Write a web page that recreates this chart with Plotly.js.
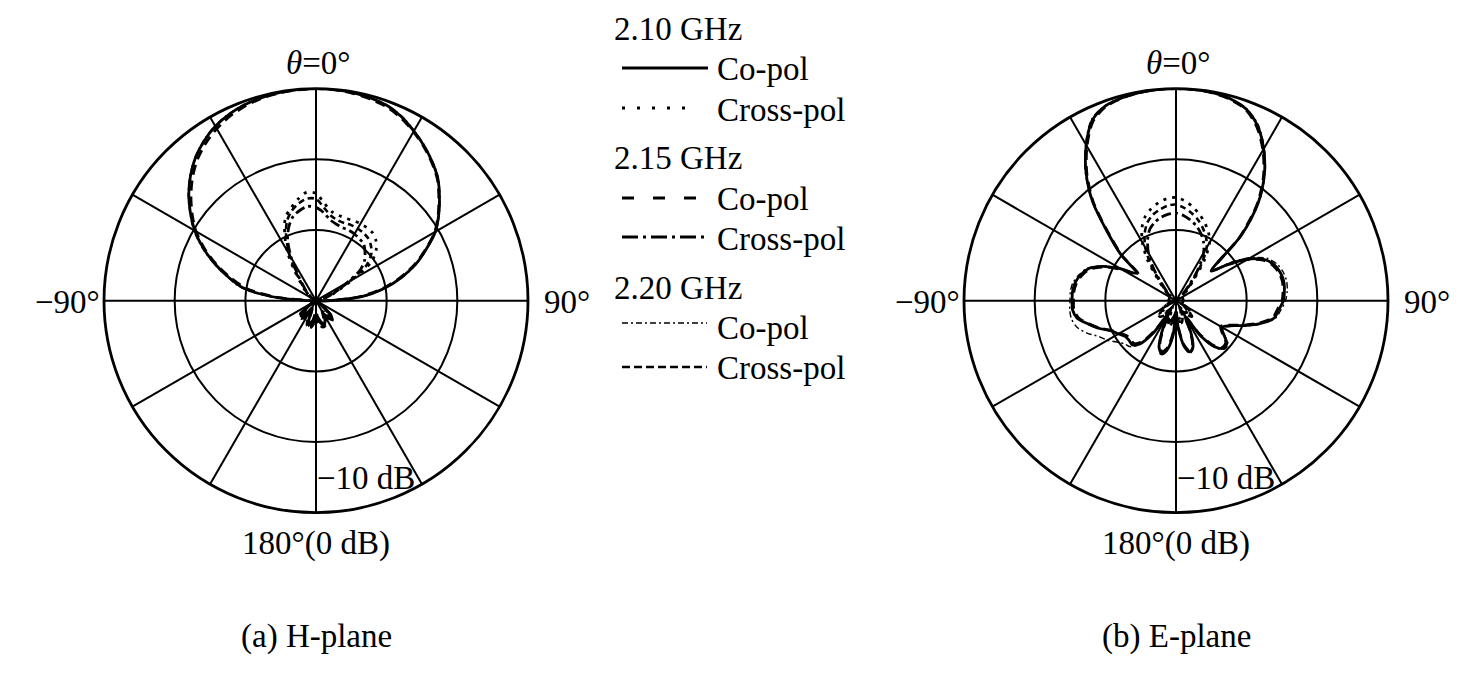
<!DOCTYPE html>
<html><head><meta charset="utf-8">
<script src="https://cdn.plot.ly/plotly-3.0.1.min.js"></script>
<style>html,body{margin:0;padding:0;background:#fff;}#chart{width:1465px;height:673px;}</style>
</head><body><div id="chart"></div>
<script>
// angles (degrees), theta = 0 at top, clockwise
const theta = [-180,-175,-170,-165,-160,-155,-150,-145,-140,-135,-130,-125,-120,-115,-110,-105,-100,-95,-90,
 -85,-80,-75,-70,-65,-60,-55,-50,-45,-40,-35,-30,-25,-20,-15,-10,-5,0,
 5,10,15,20,25,30,35,40,45,50,55,60,65,70,75,80,85,90,
 95,100,105,110,115,120,125,130,135,140,145,150,155,160,165,170,175,180];

// ---------- H-plane (dB) ----------
const hCo210 = [-28,-27.5,-26.5,-26.5,-27,-28.5,-28,-27,-27,-27.5,-28,-29,-29.5,-29.5,-29.5,-29.5,-29.5,-29.5,-29,
 -24,-19.5,-17.2,-14.8,-12.4,-10.2,-8.3,-6.5,-4.9,-3.5,-2.4,-1.5,-0.9,-0.5,-0.25,-0.1,0,0,
 0,-0.1,-0.3,-0.6,-1.3,-2.3,-3.3,-4.4,-5.6,-7.2,-8.8,-10.5,-12.8,-15,-17.6,-20.3,-23.5,-28,
 -29.5,-29.5,-29.5,-29.5,-29.5,-29.5,-29.5,-28.5,-27,-26.5,-27,-27.5,-27,-26.5,-26.5,-27,-27.5,-28];
const hCo215 = [-28.5,-28,-27,-26.8,-27.5,-28.8,-28.5,-27.5,-27.3,-27.8,-28.5,-29.2,-29.5,-29.5,-29.5,-29.5,-29.5,-29.5,-29.2,
 -24.5,-20,-17.5,-15,-12.6,-10.4,-8.6,-6.9,-5.3,-3.9,-2.8,-1.9,-1.2,-0.7,-0.35,-0.15,-0.05,0,
 -0.05,-0.2,-0.45,-0.8,-1.5,-2.4,-3.4,-4.5,-5.7,-7.3,-8.9,-10.6,-12.9,-15.2,-17.8,-20.6,-24,-28,
 -29.5,-29.5,-29.5,-29.5,-29.5,-29.5,-29.5,-28.8,-27.5,-27,-27.3,-27.8,-27.3,-26.8,-26.8,-27.3,-27.8,-28.5];
const hCo220 = [-27.8,-27.2,-26.3,-26.2,-26.8,-28.2,-27.8,-26.8,-26.8,-27.2,-27.8,-28.8,-29.4,-29.5,-29.5,-29.5,-29.5,-29.4,-28.8,
 -23.5,-19.2,-17,-14.6,-12.2,-10,-8.2,-6.4,-4.8,-3.4,-2.3,-1.4,-0.8,-0.4,-0.2,-0.05,0,0,
 0,-0.05,-0.25,-0.55,-1.2,-2.2,-3.2,-4.3,-5.5,-7.1,-8.7,-10.4,-12.7,-14.9,-17.4,-20.1,-23.2,-27.5,
 -29.4,-29.5,-29.5,-29.5,-29.5,-29.5,-29.4,-28.3,-26.8,-26.3,-26.8,-27.3,-26.8,-26.3,-26.3,-26.8,-27.3,-27.8];
const hX210 = [-27.5,-27,-26.5,-26.3,-26.5,-27.5,-28.5,-27.5,-27,-27,-27.3,-28.5,-29.5,-29.8,-29.8,-29.8,-29.8,-29.8,-29.8,
 -29.8,-29.8,-29.8,-29.8,-29.8,-29.5,-29,-28.5,-27.5,-26.5,-24.5,-21.8,-19.5,-17.4,-16.4,-15.4,-14.6,-14.8,
 -16.2,-17.2,-17.5,-17.6,-17.5,-17.4,-17.4,-17.5,-18,-18.9,-20.4,-24,-26.5,-27.8,-29,-29.8,-29.8,-29.8,
 -29.8,-29.8,-29.8,-29.8,-29.8,-29.8,-29.8,-28.5,-27,-26.8,-27.5,-28,-27,-26.4,-26.3,-26.6,-27,-27.5];
const hX215 = [-28,-27.5,-27,-26.8,-27,-28,-28.8,-28,-27.5,-27.5,-27.8,-28.8,-29.5,-29.8,-29.8,-29.8,-29.8,-29.8,-29.8,
 -29.8,-29.8,-29.8,-29.8,-29.8,-29.6,-29.2,-28.8,-28,-27.2,-25.5,-23,-20.5,-18.8,-17.6,-17,-16.6,-16.8,
 -17.5,-18.4,-18.8,-19,-19,-19.1,-19.3,-19.5,-20.2,-21,-22.3,-25,-27,-28.3,-29.3,-29.8,-29.8,-29.8,
 -29.8,-29.8,-29.8,-29.8,-29.8,-29.8,-29.8,-28.8,-27.5,-27.2,-27.8,-28.3,-27.5,-26.8,-26.7,-27,-27.4,-28];
const hX220 = [-27.2,-26.8,-26.2,-26,-26.3,-27.2,-28.2,-27.2,-26.7,-26.8,-27.1,-28.3,-29.4,-29.8,-29.8,-29.8,-29.8,-29.8,-29.8,
 -29.8,-29.8,-29.8,-29.8,-29.8,-29.5,-29,-28.5,-27.8,-26.8,-25,-22.5,-20,-18,-16.8,-16,-15.5,-15.6,
 -16.8,-17.8,-18.2,-18.3,-18.2,-18.2,-18.3,-18.5,-19,-19.8,-21.3,-24.5,-26.8,-28,-29.2,-29.8,-29.8,-29.8,
 -29.8,-29.8,-29.8,-29.8,-29.8,-29.8,-29.6,-28.2,-26.8,-26.5,-27.2,-27.7,-26.8,-26.2,-26.1,-26.4,-26.8,-27.2];

// ---------- E-plane (dB) ----------
const eCo210 = [-28,-25,-23,-22.2,-23,-25.5,-28,-24.5,-22,-21.2,-21.3,-21.2,-20.6,-19.9,-18.5,-17.2,-15.8,-15.3,-15.3,
 -15.3,-15.5,-16,-16.8,-18.5,-21,-23.3,-19.8,-16.3,-11.6,-7.8,-4.6,-1.9,-0.7,-0.3,-0.1,0,0,
 0,-0.1,-0.4,-1.1,-2.7,-5.2,-8.2,-11.9,-17,-23.5,-21,-18.2,-16.2,-15.2,-14.7,-14.5,-14.6,-14.8,
 -15.4,-15.9,-17.6,-19.7,-21.6,-22.5,-21.8,-20.6,-20.5,-21.5,-24,-27.5,-25,-23,-22.5,-23.5,-26,-28];
const eCo215 = [-28.5,-25.5,-23.3,-22.5,-23.3,-26,-28.5,-25,-22.3,-21.5,-21.6,-21.4,-20.8,-20,-18.6,-17.3,-16,-15.5,-15.5,
 -15.5,-15.7,-16.2,-17,-18.7,-21.2,-23.5,-20,-16.5,-11.8,-8,-4.8,-2.1,-0.8,-0.35,-0.1,0,0,
 0,-0.15,-0.5,-1.2,-2.9,-5.4,-8.4,-12.1,-17.2,-23.3,-21.2,-18.4,-16.4,-15.4,-14.9,-14.7,-14.8,-15,
 -15.6,-16.1,-17.8,-19.9,-21.8,-22.7,-22,-20.8,-20.7,-21.7,-24.3,-27.5,-25.2,-23.2,-22.7,-23.7,-26.2,-28.5];
const eCo220 = [-27.5,-24.8,-22.8,-22,-22.8,-25.2,-27.5,-24.2,-21.8,-20.8,-20.5,-19.8,-18.8,-18,-16.6,-15.5,-15,-14.9,-15,
 -15,-15.2,-15.8,-16.6,-18.3,-20.8,-23.2,-19.6,-16.1,-11.4,-7.6,-4.4,-1.7,-0.6,-0.25,-0.05,0,0,
 0,-0.05,-0.35,-1,-2.5,-5,-8,-11.7,-16.8,-23.2,-20.6,-17.8,-15.8,-14.8,-14.3,-14.1,-14.2,-14.5,
 -15.1,-15.7,-17.4,-19.5,-21.4,-22.3,-21.6,-20.4,-20.3,-21.3,-23.8,-27,-24.8,-22.8,-22.3,-23.3,-25.8,-27.5];
const eX210 = [-28,-27.5,-27,-26.5,-27,-28,-28.5,-28,-27.5,-27,-27,-27.5,-28,-28.5,-29,-29,-29,-29,-29,
 -29,-29,-29,-29,-29,-29,-29,-28.5,-27.5,-26,-23,-20.5,-18.6,-17.3,-16.5,-15.9,-15.5,-15.4,
 -15.8,-16.5,-17.3,-18.2,-19.2,-20.5,-23,-26,-27.5,-28.5,-29,-29,-29,-29,-29,-29,-29,-29,
 -29,-29,-29,-29,-29,-28.5,-28,-27.5,-27,-27.5,-28,-28.5,-28,-27.5,-27,-27,-27.5,-28];
const eX215 = [-28.5,-28,-27.5,-27,-27.5,-28.5,-29,-28.5,-28,-27.5,-27.5,-28,-28.5,-29,-29.5,-29.5,-29.5,-29.5,-29.5,
 -29.5,-29.5,-29.5,-29.5,-29.5,-29.5,-29.5,-29,-28.2,-27,-24.5,-22.2,-20.5,-19.2,-18.5,-18,-17.7,-17.6,
 -17.9,-18.4,-19,-19.8,-20.8,-22.2,-24.5,-27,-28.5,-29.2,-29.5,-29.5,-29.5,-29.5,-29.5,-29.5,-29.5,-29.5,
 -29.5,-29.5,-29.5,-29.5,-29.5,-29,-28.5,-28,-27.5,-28,-28.5,-29,-28.5,-28,-27.5,-27.5,-28,-28.5];
const eX220 = [-27.8,-27.2,-26.8,-26.3,-26.8,-27.8,-28.3,-27.8,-27.2,-26.8,-26.8,-27.3,-27.8,-28.3,-28.8,-29,-29,-29,-29,
 -29,-29,-29,-29,-29,-29,-29,-28.7,-27.8,-26.5,-23.8,-21.3,-19.5,-18.2,-17.4,-16.9,-16.5,-16.4,
 -16.8,-17.4,-18.1,-19,-20,-21.3,-23.8,-26.5,-28,-28.8,-29,-29,-29,-29,-29,-29,-29,-29,
 -29,-29,-29,-29,-29,-28.3,-27.8,-27.3,-26.8,-27.3,-27.8,-28.3,-27.8,-27.3,-26.8,-26.8,-27.3,-27.8];

// legend entries
const freqLabels = ['2.10 GHz','2.15 GHz','2.20 GHz'];
const polLabels = ['Co-pol','Cross-pol'];

// line styles: [2.10 co, 2.10 cross, 2.15 co, 2.15 cross, 2.20 co, 2.20 cross]
const styles = [
  {width: 2.8, dash: 'solid'},
  {width: 2.8, dash: '3px,12px'},
  {width: 2.8, dash: '12px,19px'},
  {width: 2.8, dash: '16px,5px,3px,5px'},
  {width: 1.4, dash: '6px,3px,2px,3px'},
  {width: 2.6, dash: '8px,4px'}
];
// on-plot dash patterns (denser, as the curves are drawn with many short segments)
const plotDash = ['solid', '3px,6px', '10px,6px', '10px,4px,3px,4px', '6px,3px,2px,3px', '6px,4px'];

const hSeries = [hCo210, hX210, hCo215, hX215, hCo220, hX220];
const eSeries = [eCo210, eX210, eCo215, eX215, eCo220, eX220];

const traces = [];
hSeries.forEach((r, i) => traces.push({type:'scatterpolar', mode:'lines', theta: theta, r: r, subplot:'polar',
  line:{color:'black', width: styles[i].width, dash: plotDash[i], shape:'spline', smoothing:0.8}, showlegend:false, hoverinfo:'skip'}));
eSeries.forEach((r, i) => traces.push({type:'scatterpolar', mode:'lines', theta: theta, r: r, subplot:'polar2',
  line:{color:'black', width: styles[i].width, dash: plotDash[i], shape:'spline', smoothing:0.8}, showlegend:false, hoverinfo:'skip'}));

const W = 1465, H = 673;
const px = x => x / W, py = y => 1 - y / H;

function polarCfg(x0, x1){
  return {
    domain: {x: [px(x0), px(x1)], y: [py(512.7), py(88.7)]},
    bgcolor: 'white',
    radialaxis: {range: [-30, 0], tickvals: [-20, -10], showticklabels: false, ticks: '', showline: false,
      gridcolor: 'black', gridwidth: 2},
    angularaxis: {rotation: 90, direction: 'clockwise', tickmode: 'linear', tick0: 0, dtick: 30,
      showticklabels: false, ticks: '', gridcolor: 'black', gridwidth: 2,
      showline: true, linecolor: 'black', linewidth: 2.8}
  };
}

const font = {family: 'Liberation Serif, Times New Roman, serif', size: 33, color: 'black'};
const ann = (x, y, text, xanchor) => ({xref:'paper', yref:'paper', x: px(x), y: py(y), text: text,
  showarrow: false, xanchor: xanchor || 'center', yanchor: 'middle', font: font});

const annotations = [];
[316, 1176].forEach((cx, k) => {
  annotations.push(ann(cx + 2, 63, '<i>θ</i>=0°'));
  annotations.push(ann(cx - 249, 302, '−90°'));
  annotations.push(ann(cx + 251, 302, '90°'));
  annotations.push(ann(cx + 50, 478, '−10 dB'));
  annotations.push(ann(cx, 543, '180°(0 dB)'));
  annotations.push(ann(cx, 636, k === 0 ? '(a) H-plane' : '(b) E-plane'));
});

// legend block
const groupY = [29, 158, 288];
const rowY = [[69, 110], [199, 239], [328, 368]];
const lineY = [[68, 108], [198, 237], [323, 367]];
const lineEnd = [[708, 697], [697, 707], [707, 707]];
const shapes = [];
freqLabels.forEach((f, g) => {
  annotations.push(ann(612, groupY[g], f, 'left'));
  polLabels.forEach((p, j) => {
    annotations.push(ann(715, rowY[g][j], p, 'left'));
    const s = styles[g * 2 + j];
    shapes.push({type:'line', xref:'paper', yref:'paper', x0: px(622), x1: px(lineEnd[g][j]),
      y0: py(lineY[g][j]), y1: py(lineY[g][j]), line:{color:'black', width: s.width, dash: s.dash}});
  });
});

const layout = {
  width: W, height: H, margin: {l:0, r:0, t:0, b:0},
  paper_bgcolor: 'white', showlegend: false,
  polar: polarCfg(104, 528),
  polar2: polarCfg(964, 1388),
  annotations: annotations,
  shapes: shapes
};

Plotly.newPlot('chart', traces, layout, {staticPlot: true, displayModeBar: false});
</script>
</body></html>
